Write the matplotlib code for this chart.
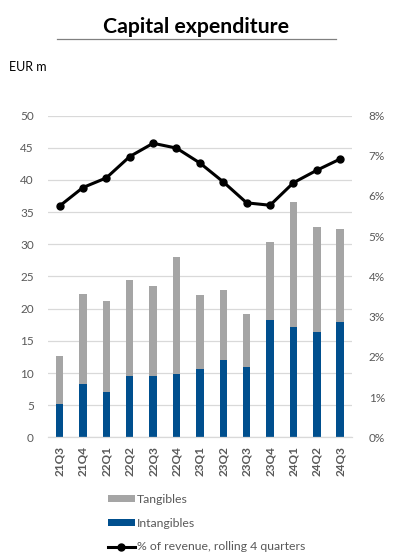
import matplotlib
matplotlib.use("Agg")
import matplotlib.pyplot as plt
from matplotlib.patches import Patch
from matplotlib.lines import Line2D
import numpy as np

plt.rcParams['font.family'] = ['Lato', 'DejaVu Sans']

quarters = ["21Q3", "21Q4", "22Q1", "22Q2", "22Q3", "22Q4", "23Q1", "23Q2",
            "23Q3", "23Q4", "24Q1", "24Q2", "24Q3"]
intangibles = [5.2, 8.3, 7.1, 9.6, 9.5, 9.9, 10.6, 12.1, 10.9, 18.2, 17.1, 16.4, 17.9]
totals = [12.6, 22.3, 21.2, 24.5, 23.5, 28.0, 22.2, 22.9, 19.1, 30.4, 36.5, 32.7, 32.4]
tangibles = [t - i for t, i in zip(totals, intangibles)]
pct_revenue = [5.75, 6.21, 6.45, 6.98, 7.31, 7.19, 6.82, 6.35, 5.83, 5.77, 6.33, 6.64, 6.92]

left_ticks = [0, 5, 10, 15, 20, 25, 30, 35, 40, 45, 50]
right_ticks = [0, 1, 2, 3, 4, 5, 6, 7, 8]

GRAY = "#A5A5A5"
BLUE = "#004F8E"
TXT = "#595959"

fig = plt.figure(figsize=(4.16, 5.58), dpi=100)
ax = fig.add_axes([0.115, 0.216, 0.731, 0.577])
x = np.arange(len(quarters))
w = 0.32
ax.bar(x, intangibles, width=w, color=BLUE, zorder=2)
ax.bar(x, tangibles, width=w, bottom=intangibles, color=GRAY, zorder=2)
ax.set_xlim(-0.5, len(quarters) - 0.5)
ax.set_ylim(0, 50)
ax.set_yticks(left_ticks)
ax.set_yticklabels([str(v) for v in left_ticks])
ax.grid(axis='y', color="#D9D9D9", linewidth=0.9, zorder=0)
for s in ["top", "right", "left"]:
    ax.spines[s].set_visible(False)
ax.spines["bottom"].set_color("#D9D9D9")
ax.spines["bottom"].set_linewidth(0.9)
ax.tick_params(axis='both', length=0, colors=TXT, labelsize=8.5)
ax.tick_params(axis='y', pad=10)
ax.set_xticks(x)
ax.set_xticklabels(quarters, rotation=90, fontweight='bold')
ax.tick_params(axis='x', pad=6)

ax2 = ax.twinx()
ax2.set_ylim(0, 8)
ax2.set_yticks(right_ticks)
ax2.set_yticklabels([f"{v}%" for v in right_ticks])
ax2.plot(x, pct_revenue, color="black", linewidth=2.2, marker='o', markersize=5, zorder=3)
for s in ax2.spines.values():
    s.set_visible(False)
ax2.tick_params(axis='y', length=0, colors=TXT, labelsize=8.5, pad=12)

fig.text(0.472, 0.952, "Capital expenditure", ha='center', va='center',
         fontsize=15.3, fontweight='bold', color='black')
fig.add_artist(Line2D([0.137, 0.808], [0.930, 0.930], color="#808080", linewidth=0.9))
fig.text(0.022, 0.88, "EUR m", ha='left', va='center', fontsize=9, color='black')

handles = [Patch(facecolor=GRAY, edgecolor='none'),
           Patch(facecolor=BLUE, edgecolor='none'),
           Line2D([0], [0], color='black', linewidth=2.2, marker='o', markersize=5)]
labels = ["Tangibles", "Intangibles", "% of revenue, rolling 4 quarters"]
fig.legend(handles, labels, loc='upper left', bbox_to_anchor=(0.245, 0.126),
           frameon=False, fontsize=8.8, labelcolor=TXT, handlelength=2.2,
           handleheight=0.5, handletextpad=0.15, labelspacing=1.05, borderpad=0)

fig.savefig("out.png", dpi=100, facecolor='white')
